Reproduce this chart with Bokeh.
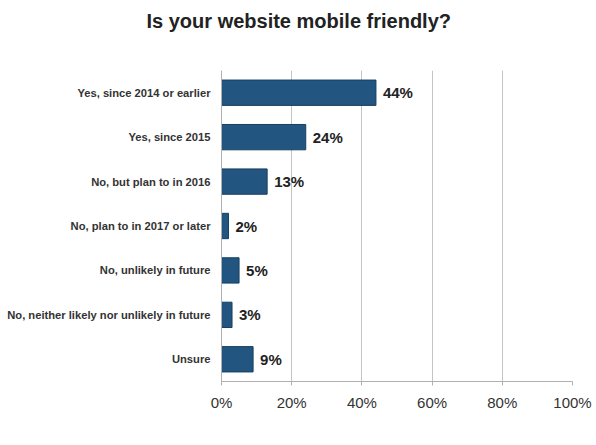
from bokeh.plotting import figure
from bokeh.models import ColumnDataSource, Range1d, FactorRange, Title, FixedTicker, CustomJSTickFormatter
from bokeh.core.properties import value
from bokeh.embed import file_html
from bokeh.resources import INLINE

categories = [
    "Yes, since 2014 or earlier",
    "Yes, since 2015",
    "No, but plan to in 2016",
    "No, plan to in 2017 or later",
    "No, unlikely in future",
    "No, neither likely nor unlikely in future",
    "Unsure",
]
values = [44, 24, 13, 2, 5, 3, 9]
value_labels = ["44%", "24%", "13%", "2%", "5%", "3%", "9%"]
x_ticks = [0, 20, 40, 60, 80, 100]
title_text = "Is your website mobile friendly?"

src = ColumnDataSource(dict(cat=categories, val=values, lab=value_labels))

p = figure(
    width=596, height=445,
    y_range=FactorRange(*reversed(categories)),
    x_range=Range1d(0, 100),
    output_backend="svg", toolbar_location=None,
    min_border_left=221, min_border_right=24, min_border_top=70, min_border_bottom=64,
)
p.outline_line_color = None
p.background_fill_color = "white"
p.border_fill_color = "white"

p.hbar(y="cat", right="val", height=0.57, source=src,
       fill_color="#22557f", line_color="#173f5f", line_width=1)

p.text(x="val", y="cat", text="lab", source=src, x_offset=7,
       text_baseline="middle", text_align="left",
       text_font_size="15px", text_font_style="bold", text_color="#222222",
       text_font=value("Liberation Sans"))

# x axis
p.xaxis.ticker = FixedTicker(ticks=x_ticks)
p.xaxis.formatter = CustomJSTickFormatter(code="return tick + '%';")
p.xaxis.axis_line_color = "#b0b0b0"
p.xaxis.major_tick_line_color = "#b0b0b0"
p.xaxis.major_tick_out = 4
p.xaxis.major_tick_in = 0
p.xaxis.minor_tick_line_color = None
p.xaxis.major_label_text_font = "Liberation Sans"
p.xaxis.major_label_text_font_size = "15px"
p.xaxis.major_label_text_color = "#333333"
p.xaxis.major_label_standoff = 8

# y axis
p.yaxis.axis_line_color = "#b0b0b0"
p.yaxis.major_tick_line_color = None
p.yaxis.minor_tick_line_color = None
p.yaxis.major_label_text_font = "Liberation Sans"
p.yaxis.major_label_text_font_size = "11.2px"
p.yaxis.major_label_text_font_style = "bold"
p.yaxis.major_label_text_color = "#333333"
p.yaxis.major_label_standoff = 5

p.xgrid.grid_line_color = "#c4c4c4"
p.xgrid.ticker = FixedTicker(ticks=x_ticks)
p.ygrid.grid_line_color = None

# spacer between frame and title, then the title itself (outermost)
p.add_layout(Title(text=" ", text_font_size="1px", standoff=34), "above")
p.add_layout(Title(text=title_text, align="left", offset=-75, standoff=0, vertical_align="top",
                   text_font="Liberation Sans", text_font_size="20px", text_font_style="bold",
                   text_color="#222222"), "above")

open("out.html", "w").write(file_html(p, INLINE))
